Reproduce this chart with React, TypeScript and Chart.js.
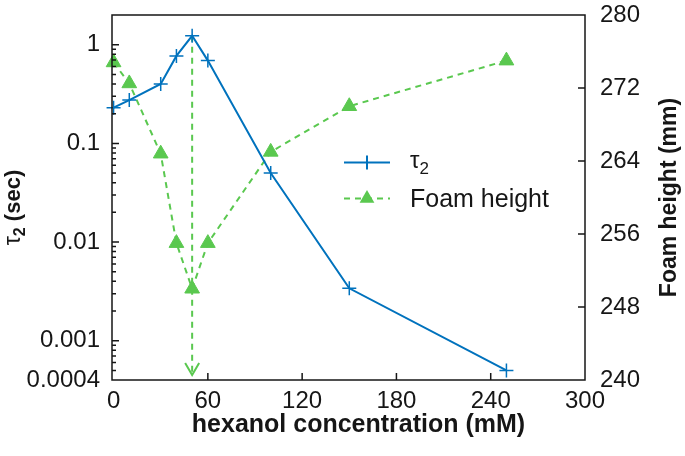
import { useEffect, useRef } from 'react';
import Chart from 'chart.js/auto';

// hexanol concentration (mM), shared by both series
const CONCENTRATION = [0, 10, 30, 40, 50, 60, 100, 150, 250];
const TAU2 = [0.23, 0.275, 0.4, 0.77, 1.23, 0.69, 0.05, 0.0034, 0.0005];
const FOAM_HEIGHT = [274.8, 272.5, 264.8, 255, 250, 255, 265, 270, 275];

// dashed drop line from the tau2 peak down to the x axis
const DROP_X = [50, 50];
const DROP_TAU = [1.23, 0.00045];

const X_TICKS = [0, 60, 120, 180, 240, 300];
const TAU_TICK_LABELS = [1, 0.1, 0.01, 0.001, 0.0004];
const FOAM_TICKS = [240, 248, 256, 264, 272, 280];

const BLUE = '#0072bd';
const GREEN = '#5ac84f';
const INK = '#161616';
const FONT = "'Liberation Sans', Arial, sans-serif";

type Run = { text: string; font: string; dy: number };

function drawRuns(ctx: CanvasRenderingContext2D, runs: Run[], x: number, y: number, center: boolean) {
  const widths = runs.map((r) => {
    ctx.font = r.font;
    return ctx.measureText(r.text).width;
  });
  const total = widths.reduce((a, b) => a + b, 0);
  let cx = center ? x - total / 2 : x;
  ctx.textAlign = 'left';
  ctx.textBaseline = 'alphabetic';
  runs.forEach((r, i) => {
    ctx.font = r.font;
    ctx.fillText(r.text, cx, y + r.dy);
    cx += widths[i];
  });
}

function isLabelled(v: number) {
  return TAU_TICK_LABELS.some((t) => Math.abs(t - v) / t < 1e-6);
}

// frame, inward tick marks, drop-line arrow head
const axesPlugin = {
  id: 'axesFrame',
  afterDatasetsDraw(chart: any) {
    const { ctx, chartArea: a, scales } = chart;
    ctx.save();
    ctx.strokeStyle = INK;
    ctx.lineWidth = 1.5;
    ctx.strokeRect(a.left, a.top, a.right - a.left, a.bottom - a.top);

    ctx.beginPath();
    for (const t of scales.x.ticks) {
      const px = scales.x.getPixelForValue(t.value);
      if (px <= a.left + 2 || px >= a.right - 2) continue;
      ctx.moveTo(px, a.bottom);
      ctx.lineTo(px, a.bottom - 7);
    }
    for (const t of scales.y.ticks) {
      const py = scales.y.getPixelForValue(t.value);
      if (py <= a.top + 2 || py >= a.bottom - 2) continue;
      ctx.moveTo(a.left, py);
      ctx.lineTo(a.left + (isLabelled(t.value) ? 7 : 4), py);
    }
    for (const t of scales.y2.ticks) {
      const py = scales.y2.getPixelForValue(t.value);
      if (py <= a.top + 2 || py >= a.bottom - 2) continue;
      ctx.moveTo(a.right, py);
      ctx.lineTo(a.right - 7, py);
    }
    ctx.stroke();

    const tip = chart.getDatasetMeta(2).data[1];
    if (tip) {
      ctx.strokeStyle = GREEN;
      ctx.lineWidth = 2;
      ctx.beginPath();
      ctx.moveTo(tip.x - 7, tip.y - 12);
      ctx.lineTo(tip.x, tip.y);
      ctx.lineTo(tip.x + 7, tip.y - 12);
      ctx.stroke();
    }
    ctx.restore();
  },
};

// in-plot legend and axis titles (subscripted tau)
const textPlugin = {
  id: 'axisText',
  afterDraw(chart: any) {
    const { ctx, chartArea: a } = chart;
    ctx.save();
    ctx.fillStyle = INK;

    // legend
    const lx = a.left + 232;
    const rows = [a.top + 147.5, a.top + 183.5];
    ctx.lineWidth = 2;
    ctx.strokeStyle = BLUE;
    ctx.beginPath();
    ctx.moveTo(lx, rows[0]);
    ctx.lineTo(lx + 46, rows[0]);
    ctx.moveTo(lx + 23, rows[0] - 7);
    ctx.lineTo(lx + 23, rows[0] + 7);
    ctx.stroke();

    ctx.strokeStyle = GREEN;
    ctx.setLineDash([6, 5]);
    ctx.beginPath();
    ctx.moveTo(lx, rows[1]);
    ctx.lineTo(lx + 46, rows[1]);
    ctx.stroke();
    ctx.setLineDash([]);
    const r = 8.5;
    ctx.fillStyle = GREEN;
    ctx.beginPath();
    ctx.moveTo(lx + 23, rows[1] - r);
    ctx.lineTo(lx + 23 + r * Math.sin((2 * Math.PI) / 3), rows[1] + r / 2);
    ctx.lineTo(lx + 23 - r * Math.sin((2 * Math.PI) / 3), rows[1] + r / 2);
    ctx.closePath();
    ctx.fill();

    ctx.fillStyle = INK;
    drawRuns(
      ctx,
      [
        { text: 'τ', font: `24px ${FONT}`, dy: 0 },
        { text: '2', font: `17px ${FONT}`, dy: 6 },
      ],
      lx + 66,
      rows[0] + 5,
      false,
    );
    drawRuns(ctx, [{ text: 'Foam height', font: `25px ${FONT}`, dy: 0 }], lx + 66, rows[1] + 8.5, false);

    // x title
    ctx.font = `bold 25px ${FONT}`;
    ctx.textAlign = 'center';
    ctx.textBaseline = 'alphabetic';
    ctx.fillText('hexanol concentration (mM)', (a.left + a.right) / 2 + 10, a.bottom + 52);

    // left title
    ctx.save();
    ctx.translate(a.left - 92, (a.top + a.bottom) / 2 + 10);
    ctx.rotate(-Math.PI / 2);
    drawRuns(
      ctx,
      [
        { text: 'τ', font: `23px ${FONT}`, dy: 0 },
        { text: '2', font: `bold 16px ${FONT}`, dy: 5 },
        { text: ' (sec)', font: `bold 22px ${FONT}`, dy: 0 },
      ],
      0,
      0,
      true,
    );
    ctx.restore();

    // right title, reads bottom to top
    ctx.save();
    ctx.translate(a.right + 91, (a.top + a.bottom) / 2);
    ctx.rotate(-Math.PI / 2);
    ctx.font = `bold 23px ${FONT}`;
    ctx.textAlign = 'center';
    ctx.textBaseline = 'alphabetic';
    ctx.fillText('Foam height (mm)', 0, 0);
    ctx.restore();

    ctx.restore();
  },
};

export default function App() {
  const canvasRef = useRef<HTMLCanvasElement | null>(null);

  useEffect(() => {
    const canvas = canvasRef.current;
    if (!canvas) return;

    const tickFont = { family: FONT, size: 24 };
    const hiddenGrid = { display: false, drawTicks: false };
    // fixed plot box: 15px above, 76px below, 112px left, 100px right
    const fitVertical = (width: number) => (s: any) => {
      s.width = width;
      s.paddingTop = 15;
      s.paddingBottom = 0;
    };

    const chart = new Chart(canvas, {
      type: 'line',
      data: {
        datasets: [
          {
            label: 'τ2',
            data: CONCENTRATION.map((x, i) => ({ x, y: TAU2[i] })),
            yAxisID: 'y',
            borderColor: BLUE,
            backgroundColor: BLUE,
            borderWidth: 2,
            pointStyle: 'cross',
            pointRadius: 7,
            pointBorderWidth: 1.5,
            pointBorderColor: BLUE,
            tension: 0,
            clip: false,
          },
          {
            label: 'Foam height',
            data: CONCENTRATION.map((x, i) => ({ x, y: FOAM_HEIGHT[i] })),
            yAxisID: 'y2',
            borderColor: GREEN,
            backgroundColor: GREEN,
            borderWidth: 2,
            borderDash: [6, 5],
            pointStyle: 'triangle',
            pointRadius: 8.5,
            pointBorderWidth: 1,
            pointBorderColor: GREEN,
            pointBackgroundColor: GREEN,
            tension: 0,
            clip: false,
          },
          {
            label: 'drop',
            data: DROP_X.map((x, i) => ({ x, y: DROP_TAU[i] })),
            yAxisID: 'y',
            borderColor: GREEN,
            borderWidth: 2,
            borderDash: [6, 5],
            pointRadius: 0,
            tension: 0,
          },
        ],
      },
      options: {
        responsive: true,
        maintainAspectRatio: false,
        animation: false,
        events: [],
        layout: { padding: 0 },
        plugins: {
          legend: { display: false },
          tooltip: { enabled: false },
        },
        scales: {
          x: {
            type: 'linear',
            min: -1,
            max: 300,
            grid: hiddenGrid,
            border: { display: false },
            afterBuildTicks: (s: any) => {
              s.ticks = X_TICKS.map((value) => ({ value }));
            },
            afterFit: (s: any) => {
              s.height = 76;
            },
            ticks: {
              color: INK,
              font: tickFont,
              padding: 7,
              autoSkip: false,
              maxRotation: 0,
              callback: (v: any) => String(v),
            },
          },
          y: {
            type: 'logarithmic',
            position: 'left',
            min: 0.0004,
            max: 2,
            grid: hiddenGrid,
            border: { display: false },
            afterBuildTicks: (s: any) => {
              const ticks: { value: number }[] = [];
              for (let e = -4; e <= 0; e++) {
                for (let m = 1; m <= 9; m++) {
                  const v = parseFloat((m * Math.pow(10, e)).toPrecision(1));
                  if (v >= 0.0004 && v <= 2) ticks.push({ value: v });
                }
              }
              s.ticks = ticks;
            },
            afterFit: fitVertical(112),
            ticks: {
              color: INK,
              font: tickFont,
              padding: 12,
              autoSkip: false,
              callback: (v: any) => (isLabelled(Number(v)) ? String(Number(v)) : ''),
            },
          },
          y2: {
            type: 'linear',
            position: 'right',
            min: 240,
            max: 280,
            grid: hiddenGrid,
            border: { display: false },
            afterBuildTicks: (s: any) => {
              s.ticks = FOAM_TICKS.map((value) => ({ value }));
            },
            afterFit: fitVertical(100),
            ticks: {
              color: INK,
              font: tickFont,
              padding: 15,
              autoSkip: false,
              callback: (v: any) => String(v),
            },
          },
        },
      },
      plugins: [axesPlugin, textPlugin],
    });

    return () => chart.destroy();
  }, []);

  return (
    <div style={{ position: 'fixed', left: 0, top: 0, width: 685, height: 456, background: '#fff' }}>
      <canvas ref={canvasRef} />
    </div>
  );
}
